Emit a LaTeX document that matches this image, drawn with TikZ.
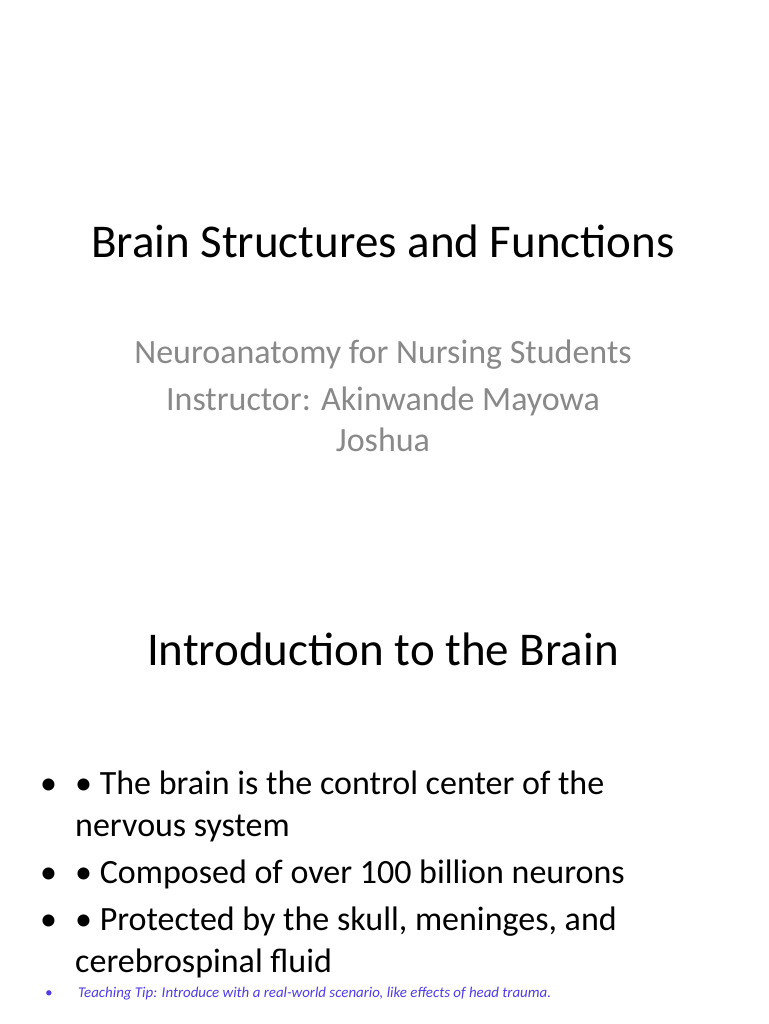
\documentclass[tikz,border=0pt]{standalone}
\usepackage{fontspec}
\setmainfont{Carlito}
\definecolor{sub}{RGB}{137,137,137}
\definecolor{tip}{RGB}{80,60,230}
\begin{document}
\begin{tikzpicture}[x=1pt,y=-1pt,
  every node/.style={inner sep=0pt,anchor=base},
  title/.style={font=\fontsize{47}{56}\selectfont},
  subt/.style={font=\fontsize{34}{40}\selectfont,text=sub},
  bul/.style={font=\fontsize{34}{40}\selectfont,anchor=base west},
  tipt/.style={font=\fontsize{14.9}{18}\selectfont\itshape,text=tip,anchor=base west}]
\useasboundingbox (0,0) rectangle (768,1024);
\fill[white] (0,0) rectangle (768,1024);
\node[title] (t1) at (383,258) {Brain Structures and Functions};
\node[subt] (s1) at (383,363) {Neuroanatomy for Nursing Students};
\node[subt] (s2) at (383,410) {Instructor: Akinwande Mayowa};
\node[subt] (s3) at (383,451) {Joshua};
\node[title] (t2) at (383,665) {Introduction to the Brain};
\node[bul] (b1d) at (40,794) {•};
\node[bul] (b1) at (75,794) {• The brain is the control center of the};
\node[bul] (b1b) at (75,836) {nervous system};
\node[bul] (b2d) at (40,883) {•};
\node[bul] (b2) at (75,883) {• Composed of over 100 billion neurons};
\node[bul] (b3d) at (40,930) {•};
\node[bul] (b3) at (75,930) {• Protected by the skull, meninges, and};
\node[bul] (b3b) at (75,972) {cerebrospinal fluid};
\node[tipt] (td) at (45,997) {•};
\node[tipt] (tt) at (78,997) {Teaching Tip: Introduce with a real-world scenario, like effects of head trauma.};
\end{tikzpicture}
\end{document}
